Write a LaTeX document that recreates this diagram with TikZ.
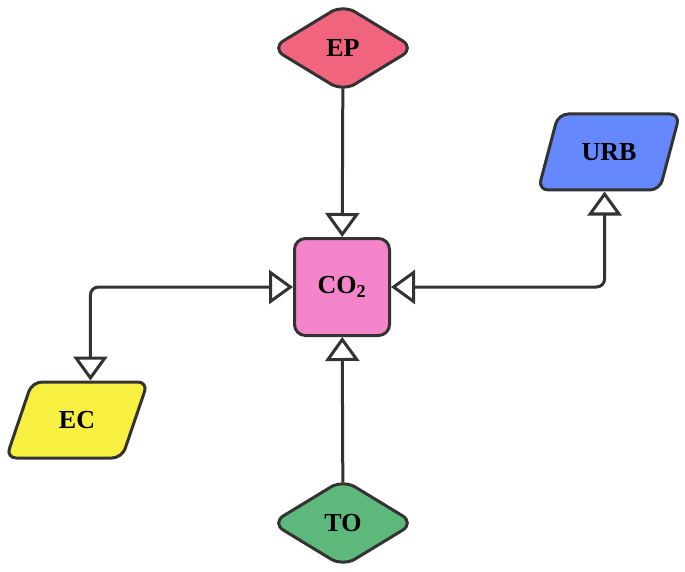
\documentclass[tikz,border=0pt]{standalone}
\usepackage{fontspec}
\setmainfont{Liberation Serif}
\usetikzlibrary{arrows.meta,shapes.geometric,positioning}

\definecolor{epred}{HTML}{F0647D}
\definecolor{urbblue}{HTML}{6688FF}
\definecolor{copink}{HTML}{F585CB}
\definecolor{ecyellow}{HTML}{F7F040}
\definecolor{togreen}{HTML}{5DB97B}
\definecolor{edge}{HTML}{333333}

\begin{document}
\begin{tikzpicture}[x=1pt,y=-1pt]

\tikzstyle{box} = [draw=edge, line width=3pt, font=\fontsize{26}{30}\selectfont\bfseries, text=black]
\tikzstyle{decide} = [box, diamond, rounded corners=14pt, minimum width=144pt, minimum height=88pt, inner sep=0pt]
\tikzstyle{data} = [box, trapezium, trapezium left angle=63, trapezium right angle=117, trapezium stretches=true, rounded corners=10pt, minimum width=142pt, minimum height=76pt]
\tikzstyle{link} = [draw=edge, line width=3pt, rounded corners=8pt, {Triangle[open,length=24pt,width=34pt]}-{Triangle[open,length=24pt,width=34pt]}]
\tikzset{oneway/.style={draw=edge, line width=3pt, shorten <=-5pt, -{Triangle[open,length=24pt,width=34pt]}}}

\useasboundingbox (0,0) rectangle (685,572);

\node[box, fill=copink, rounded corners=11pt, minimum width=95pt, minimum height=97pt](co2) at (342,287) {CO\textsubscript{2}};
\node[decide, fill=epred](ep) at (343,48) {EP};
\node[decide, fill=togreen](to) at (343,523) {TO};
\node[data, fill=urbblue](urb) at (609,152) {URB};
\node[data, fill=ecyellow](ec) at (77,420) {EC};

\draw[oneway] (ep) -- (co2);
\draw[oneway] (to) -- (co2);
\draw[link] ([xshift=6pt]urb.bottom side) |- (co2.east);
\draw[link] (ec.top side) |- (co2.west);

\end{tikzpicture}
\end{document}
